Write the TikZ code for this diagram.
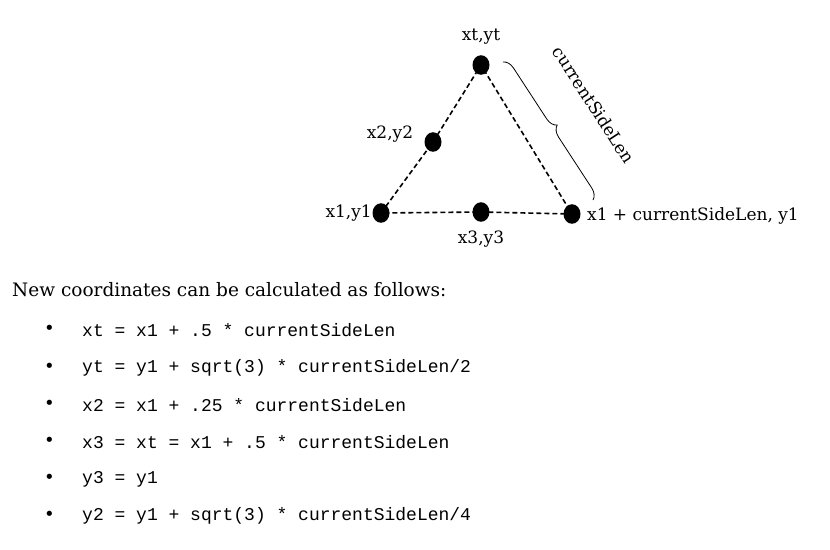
\documentclass[tikz,border=0pt]{standalone}
\usepackage{fontspec}
\setmainfont{DejaVu Serif}
\setmonofont{Liberation Mono}
\usetikzlibrary{decorations.pathreplacing}
\begin{document}
\begin{tikzpicture}[x=1pt,y=-1pt,
  pt/.style={fill=black,circle,inner sep=0pt,minimum size=17pt,yscale=1.15},
  lbl/.style={font=\fontsize{17}{19}\selectfont,inner sep=0pt},
  edge/.style={line width=1.6pt,dash pattern=on 5pt off 3pt},
  bul/.style={font=\fontsize{18}{20}\selectfont,inner sep=0pt,anchor=west}]
\useasboundingbox (0,0) rectangle (830,549);
\node[pt] (t) at (481,65) {};
\node[pt] (m) at (433,142) {};
\node[pt] (l) at (381,213) {};
\node[pt] (b) at (481,212) {};
\node[pt] (r) at (572,214) {};
\draw[edge] (l.center) -- (m.center) -- (t.center) -- (r.center) -- (b.center) -- (l.center);
\node[lbl] (lt) at (481,37) {xt,yt};
\node[lbl] (lm) at (390,134) {x2,y2};
\node[lbl,anchor=east] (ll) at (372,213) {x1,y1};
\node[lbl] (lb) at (481,239) {x3,y3};
\node[lbl,anchor=west] (lr) at (587,216) {x1 + currentSideLen, y1};
\coordinate (ba) at (503,62);
\coordinate (bb) at (593,200);
\draw[decorate,decoration={brace,amplitude=11pt},line width=0.8pt] (ba) -- (bb);
\node[lbl,rotate=-57] (bl) at (594,105) {currentSideLen};
\node[bul,font=\fontsize{18.5}{20}\selectfont] (intro) at (12,290) {New coordinates can be calculated as follows:};
\foreach \y/\t in {330/{xt = x1 + .5 * currentSideLen},
                   368/{yt = y1 + sqrt(3) * currentSideLen/2},
                   405/{x2 = x1 + .25 *  currentSideLen},
                   442/{x3 = xt = x1 + .5  *  currentSideLen},
                   479/{y3 = y1},
                   516/{y2 = y1 + sqrt(3) * currentSideLen/4}}{
  \node[bul] at (44,\y) {\textbullet};
  \node[bul] at (82,\y) {\ttfamily\t};
}
\end{tikzpicture}
\end{document}
